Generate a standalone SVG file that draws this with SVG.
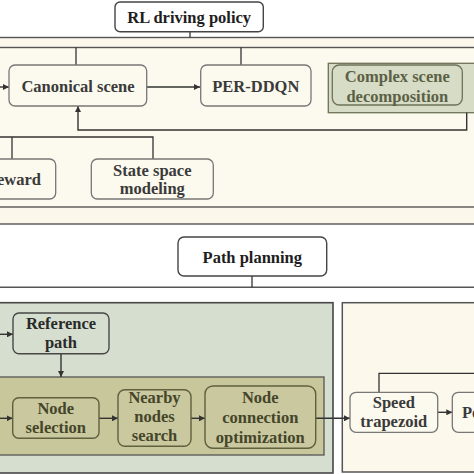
<svg xmlns="http://www.w3.org/2000/svg" width="474" height="474" viewBox="0 0 474 474">
<defs>
<marker id="ah" viewBox="0 0 10 10" refX="10" refY="5" markerWidth="6" markerHeight="6" orient="auto" markerUnits="userSpaceOnUse">
<path d="M0,0 L10,5 L0,10 z" fill="#333"/>
</marker>
<style>
text{font-family:"Liberation Serif","Times New Roman",serif;font-weight:bold;font-size:16.5px;text-anchor:middle;fill:#3a3a3a}
.frame{stroke:#555;stroke-width:1.4}
.box{fill:#FCF9EE;stroke:#777;stroke-width:1.3}
.title{fill:#fff;stroke:#444;stroke-width:1.4}
.ttl{fill:#1e1e1e}
.olbox{fill:#C9C89E;stroke:#5E603E;stroke-width:1.4}
.oltxt{fill:#45452a}
.cx{fill:#D6DCC5;stroke:#6E7258;stroke-width:1.3}
.cxt{fill:#5C6146}
.ln{fill:none;stroke:#333;stroke-width:1.3}
.arr{fill:none;stroke:#333;stroke-width:1.4;marker-end:url(#ah)}
</style>
</defs>
<rect width="474" height="474" fill="#fff"/>
<g id="frames">
<rect x="-3" y="37.5" width="480" height="186.5" fill="#FBF7EA" class="frame"/>
<rect x="-3" y="47.5" width="480" height="159.5" fill="#FCF9EF" class="frame"/>
<line x1="0" y1="287.3" x2="474" y2="287.3" class="frame"/>
<rect x="-3" y="302.7" width="336" height="170.3" fill="#D6DFCF" stroke="#474747" stroke-width="1.6"/>
<rect x="342.3" y="302.7" width="135" height="169.3" fill="#FCF8EC" stroke="#555" stroke-width="1.5"/>
<rect x="-3" y="377" width="327" height="78" fill="#C8C79C" stroke="#555" stroke-width="1.3"/>
<rect x="328.3" y="63.3" width="150" height="49.4" class="cx"/>
</g>
<g id="connectors">
<line x1="190" y1="32" x2="190" y2="37.5" class="ln"/>
<line x1="76" y1="47.5" x2="76" y2="65" class="ln"/>
<line x1="241" y1="47.5" x2="241" y2="65" class="ln"/>
<line x1="0" y1="87" x2="9" y2="87" class="arr"/>
<line x1="147" y1="87" x2="200" y2="87" class="arr"/>
<polyline points="466.7,112.7 466.7,130 78,130 78,106" class="arr"/>
<polyline points="0,137 153,137 153,159" class="ln"/>
<line x1="12" y1="137" x2="12" y2="159" class="ln"/>
<line x1="252" y1="276" x2="252" y2="287.3" class="ln"/>
<line x1="0" y1="334.3" x2="13" y2="334.3" class="arr"/>
<line x1="61" y1="353.7" x2="61" y2="377" class="arr"/>
<line x1="0" y1="418.3" x2="12.7" y2="418.3" class="arr"/>
<line x1="99" y1="418.3" x2="118" y2="418.3" class="arr"/>
<line x1="191" y1="418.3" x2="205" y2="418.3" class="arr"/>
<line x1="315.7" y1="418.3" x2="350" y2="418.3" class="arr"/>
<line x1="437.7" y1="412.3" x2="452.3" y2="412.3" class="arr"/>
<polyline points="379,392.3 379,373.3 474,373.3" class="ln"/>
</g>
<g id="rl-driving-policy">
<rect x="115" y="2" width="148.3" height="29.7" rx="5" class="title"/>
<text x="189.2" y="23" class="ttl">RL driving policy</text>
</g>
<g id="canonical-scene">
<rect x="9" y="65" width="137.7" height="41" rx="6" class="box"/>
<text x="78" y="91.5">Canonical scene</text>
</g>
<g id="per-ddqn">
<rect x="200.7" y="65" width="110.3" height="41" rx="6" class="box"/>
<text x="255.8" y="91.5">PER-DDQN</text>
</g>
<g id="complex-scene">
<rect x="332.3" y="65" width="130" height="40" rx="7" class="cx"/>
<text x="397.3" y="82" class="cxt">Complex scene</text>
<text x="397.3" y="101.7" class="cxt">decomposition</text>
</g>
<g id="reward">
<rect x="-40" y="159" width="95.7" height="40" rx="6" class="box"/>
<text x="41" y="185" style="text-anchor:end">Reward</text>
</g>
<g id="state-space">
<rect x="91.3" y="159" width="122" height="40" rx="6" class="box"/>
<text x="152.3" y="175.7">State space</text>
<text x="152.3" y="194.3">modeling</text>
</g>
<g id="path-planning">
<rect x="178" y="237" width="148.7" height="39" rx="6" class="title"/>
<text x="252.3" y="263" class="ttl">Path planning</text>
</g>
<g id="reference-path">
<rect x="13" y="313" width="96" height="40.7" rx="6" fill="#D6DFCF" stroke="#474747" stroke-width="1.4"/>
<text x="61" y="328.7" class="ttl" style="fill:#2a2a2a">Reference</text>
<text x="61" y="347.7" class="ttl" style="fill:#2a2a2a">path</text>
</g>
<g id="node-selection">
<rect x="12.7" y="397.7" width="86.3" height="40.6" rx="6" class="olbox"/>
<text x="55.8" y="414" class="oltxt">Node</text>
<text x="55.8" y="433.3" class="oltxt">selection</text>
</g>
<g id="nearby-nodes">
<rect x="118" y="389.7" width="73" height="56.6" rx="7" class="olbox"/>
<text x="154.5" y="403" class="oltxt">Nearby</text>
<text x="154.5" y="422" class="oltxt">nodes</text>
<text x="154.5" y="441" class="oltxt">search</text>
</g>
<g id="node-connection">
<rect x="205" y="386" width="110.7" height="62.3" rx="8" class="olbox"/>
<text x="260.3" y="403.3" class="oltxt">Node</text>
<text x="260.3" y="423.3" class="oltxt">connection</text>
<text x="260.3" y="443.3" class="oltxt">optimization</text>
</g>
<g id="speed-trapezoid">
<rect x="350" y="392.3" width="87.7" height="40" rx="6" class="box"/>
<text x="393.8" y="408.3">Speed</text>
<text x="393.8" y="426.7">trapezoid</text>
</g>
<g id="po">
<rect x="452.3" y="392.3" width="40" height="40" rx="6" class="box"/>
<text x="462" y="418" style="text-anchor:start">Po</text>
</g>
</svg>
